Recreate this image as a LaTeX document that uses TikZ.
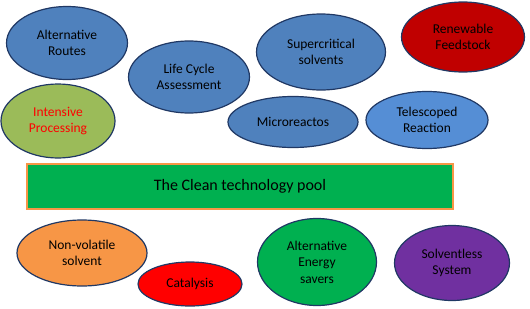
\documentclass[tikz,border=0pt]{standalone}
\usepackage{fontspec}
\setmainfont{Carlito}
\usepackage{xcolor}
\usepackage{tikz}
\usetikzlibrary{shapes.geometric}
\definecolor{rimnavy}{HTML}{203864}
\definecolor{topicblue}{HTML}{4F81BD}
\definecolor{lightblue}{HTML}{558ED5}
\definecolor{darkred}{HTML}{C00000}
\definecolor{olivegreen}{HTML}{9BBB59}
\definecolor{softorange}{HTML}{F79646}
\definecolor{brightgreen}{HTML}{00B050}
\definecolor{plum}{HTML}{7030A0}
\tikzset{
  topic/.style={ellipse, draw=rimnavy, line width=1.2pt, fill=topicblue,
    inner sep=0pt, align=center, font=\fontsize{13.5}{16.5}\selectfont},
  poolbar/.style={rectangle, draw=softorange, line width=1.3pt, fill=brightgreen,
    minimum width=426pt, minimum height=45pt, font=\fontsize{16}{19}\selectfont},
}

\begin{document}
\begin{tikzpicture}[x=1pt, y=-1pt]
\useasboundingbox (0,0) rectangle (530,308);
% upper group
\node[topic, minimum width=121pt, minimum height=73pt] (routes) at (67,43) {Alternative\\Routes};
\node[topic, minimum width=121pt, minimum height=72pt] (lca) at (189,77) {Life Cycle\\Assessment};
\node[topic, fill=olivegreen, text=red, minimum width=114pt, minimum height=74pt] (intensive) at (58,121) {Intensive\\Processing};
\node[topic, minimum width=129pt, minimum height=76pt] (supercrit) at (321,52) {Supercritical\\solvents};
\node[topic, fill=darkred, minimum width=123pt, minimum height=70pt] (renewable) at (463,37) {Renewable\\Feedstock};
\node[topic, minimum width=130pt, minimum height=51pt] (micro) at (293,122) {Microreactos};
\node[topic, fill=lightblue, minimum width=122pt, minimum height=57pt] (telescoped) at (427,120) {Telescoped\\Reaction};

% the pool
\node[poolbar] (pool) at (240,186.5) {The Clean technology pool};

% lower group
\node[topic, fill=softorange, minimum width=130pt, minimum height=66pt] (nonvolatile) at (82,253) {Non-volatile\\solvent};
\node[topic, fill=red, minimum width=104pt, minimum height=44pt] (catalysis) at (190,284) {Catalysis};
\node[topic, fill=brightgreen, minimum width=119pt, minimum height=87pt] (energy) at (317,262) {Alternative\\Energy\\savers};
\node[topic, fill=plum, minimum width=115pt, minimum height=75pt] (solventless) at (452,263) {Solventless\\System};
\end{tikzpicture}
\end{document}
